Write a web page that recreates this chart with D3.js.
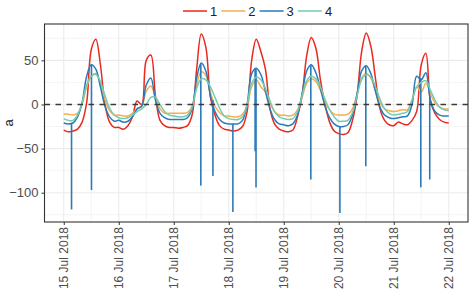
<!DOCTYPE html>
<html>
<head>
<meta charset="utf-8">
<script src="https://cdn.jsdelivr.net/npm/d3@7"></script>
<style>
  body { margin: 0; background: #fff; }
  text { font-family: "Liberation Sans", Arial, sans-serif; }
</style>
</head>
<body>
<div id="chart"></div>
<script>
// hours after 15 Jul 2018 00:00, one sample every 2 hours
const hours = d3.range(0, 170, 2);
const seriesNames = ['1', '2', '3', '4'];

const series1 = [-29,-31,-30,-28,-20,2,62,74,45,0,-20,-26,
    -26,-28,-24,-14,4,0,50,56,10,-18,-24,-26,
    -26,-27,-26,-24,-12,40,80,65,8,-12,-24,-28,
    -29,-30,-29,-25,-8,50,74,60,40,-5,-22,-28,
    -30,-31,-29,-14,10,55,76,64,28,0,-20,-30,
    -33,-34,-32,-18,10,60,81,66,30,-5,-18,-23,
    -24,-20,-22,-23,-18,-8,45,58,4,-10,-17,-20,-21];
const series2 = [-11,-11,-12,-10,0,20,32,35,24,5,-7,-12,
    -12,-13,-13,-10,-5,-2,15,21,8,-5,-10,-10,
    -10,-10,-10,-9,-2,22,37,33,14,-2,-9,-13,
    -13,-14,-14,-11,-2,20,28,20,14,2,-8,-12,
    -12,-13,-12,-6,8,24,29,26,16,3,-6,-11,
    -12,-12,-11,-5,12,30,35,30,16,2,-5,-7,
    -8,-7,-6,-6,5,20,14,24,12,2,-3,-5,-5];
const series3 = [-21,-22,-21,-14,2,32,45,40,20,-2,-14,-19,
    -18,-20,-19,-14,-5,-2,22,30,5,-10,-15,-17,
    -17,-17,-17,-15,-5,30,47,38,10,-8,-17,-21,
    -22,-22,-22,-18,0,35,41,34,15,-5,-17,-22,
    -23,-24,-22,-12,12,38,45,36,18,-2,-15,-22,
    -25,-25,-23,-12,12,38,44,35,15,-3,-12,-15,
    -16,-15,-14,-13,0,32,28,36,5,-8,-12,-13,-13];
const series4 = [-16,-18,-18,-12,2,22,32,34,26,10,-4,-12,
    -15,-16,-15,-12,-8,-5,0,8,8,0,-8,-12,
    -13,-14,-14,-12,-3,18,29,28,20,8,-4,-13,
    -16,-17,-17,-14,0,24,31,28,18,4,-8,-14,
    -16,-17,-16,-8,10,27,32,29,20,6,-6,-14,
    -19,-19,-18,-9,10,28,34,31,20,6,-5,-10,
    -12,-11,-10,-8,5,20,25,27,16,5,-3,-6,-7];

// sharp drops in series 3
const spikeHours = [3.4, 12.1, 59.8, 65.1, 73.8, 83.5, 83.9, 107.8, 120.5, 131.8, 155.8, 159.7];
const spikeTop = [-21, 45, 46, 5, -22, 41, 40, 45, -25, 44, 30, 8];
const spikeLow = [-119, -97, -92, -81, -122, -53, -94, -85, -123, -70, -94, -85];

const colors = ['#e8291f', '#f7ad4e', '#2b7bba', '#74cbb1'];

const width = 474;
const height = 297;
const margin = {top: 24, right: 6, bottom: 75, left: 44.5};

const start = new Date(2018, 6, 15);
const toDate = h => new Date(start.getTime() + h * 3600 * 1000);

const allSeries = [series1, series2, series3, series4];
const lineData = allSeries.map((vals, i) => ({
    name: seriesNames[i],
    values: vals.map((v, j) => ({t: toDate(hours[j]), v: v}))
}));

const svg = d3.select('#chart').append('svg')
    .attr('width', width)
    .attr('height', height);

const hMin = d3.min(hours), hMax = d3.max(hours);
const hPad = (hMax - hMin) * 0.05;
const x = d3.scaleTime()
    .domain([toDate(hMin - hPad), toDate(hMax + hPad)])
    .range([margin.left, width - margin.right]);

const vMin = d3.min(allSeries.flat().concat(spikeLow));
const vMax = d3.max(allSeries.flat().concat(spikeTop));
const vPad = (vMax - vMin) * 0.05;
const y = d3.scaleLinear()
    .domain([vMin - vPad, vMax + vPad])
    .range([height - margin.bottom, margin.top]);

const panelBottom = height - margin.bottom;
const panelRight = width - margin.right;

// grid (minor then major)
const dayTicks = d3.timeDay.range(d3.timeDay.ceil(x.domain()[0]), x.domain()[1]);
const noonTicks = d3.timeHour.range(x.domain()[0], x.domain()[1]).filter(d => d.getHours() === 12);
const yMajor = [-100, -50, 0, 50];
const yMinor = [-125, -75, -25, 25, 75];

svg.append('g').selectAll('line')
    .data(yMinor)
    .join('line')
    .attr('x1', margin.left).attr('x2', panelRight)
    .attr('y1', d => y(d)).attr('y2', d => y(d))
    .attr('stroke', '#ededed').attr('stroke-width', 0.6);
svg.append('g').selectAll('line')
    .data(noonTicks)
    .join('line')
    .attr('x1', d => x(d)).attr('x2', d => x(d))
    .attr('y1', margin.top).attr('y2', panelBottom)
    .attr('stroke', '#ededed').attr('stroke-width', 0.6);
svg.append('g').selectAll('line')
    .data(yMajor)
    .join('line')
    .attr('x1', margin.left).attr('x2', panelRight)
    .attr('y1', d => y(d)).attr('y2', d => y(d))
    .attr('stroke', '#ebebeb').attr('stroke-width', 1.1);
svg.append('g').selectAll('line')
    .data(dayTicks)
    .join('line')
    .attr('x1', d => x(d)).attr('x2', d => x(d))
    .attr('y1', margin.top).attr('y2', panelBottom)
    .attr('stroke', '#ebebeb').attr('stroke-width', 1.1);

// lines
const line = d3.line()
    .x(d => x(d.t))
    .y(d => y(d.v))
    .curve(d3.curveCatmullRom.alpha(0.5));

lineData.forEach((s, i) => {
    svg.append('path')
        .datum(s.values)
        .attr('fill', 'none')
        .attr('stroke', colors[i])
        .attr('stroke-width', 1.5)
        .attr('d', line);
    if (i === 2) {
        spikeHours.forEach((h, k) => {
            svg.append('path')
                .datum([{t: toDate(h), v: spikeTop[k]}, {t: toDate(h), v: spikeLow[k]}])
                .attr('fill', 'none')
                .attr('stroke', colors[i])
                .attr('stroke-width', 1.6)
                .attr('d', d3.line().x(d => x(d.t)).y(d => y(d.v)));
        });
    }
});

// zero line
svg.append('line')
    .attr('x1', margin.left).attr('x2', panelRight)
    .attr('y1', y(0)).attr('y2', y(0))
    .attr('stroke', '#3a3a3a')
    .attr('stroke-width', 1.4)
    .style('stroke-dasharray', '5.5, 5.5');

// panel border
svg.append('rect')
    .attr('x', margin.left).attr('y', margin.top)
    .attr('width', panelRight - margin.left)
    .attr('height', panelBottom - margin.top)
    .attr('fill', 'none')
    .attr('stroke', '#333')
    .attr('stroke-width', 1.1);

// axes
const yAxis = svg.append('g')
    .attr('transform', `translate(${margin.left}, 0)`)
    .call(d3.axisLeft(y).tickValues(yMajor).tickSize(3).tickPadding(3));
yAxis.select('.domain').remove();
yAxis.selectAll('line').attr('stroke', '#333');
yAxis.selectAll('text')
    .attr('fill', '#4d4d4d')
    .style('font-size', '13px');

const xAxis = svg.append('g')
    .attr('transform', `translate(0, ${panelBottom})`)
    .call(d3.axisBottom(x).tickValues(dayTicks).tickSize(3).tickFormat(d3.timeFormat('%d %b %Y')));
xAxis.select('.domain').remove();
xAxis.selectAll('line').attr('stroke', '#333');
xAxis.selectAll('text')
    .attr('fill', '#4d4d4d')
    .style('font-size', '12px')
    .attr('text-anchor', 'end')
    .attr('transform', 'rotate(-90)')
    .attr('x', -5)
    .attr('y', 0)
    .attr('dy', '0.35em');

svg.append('text')
    .attr('transform', `translate(13, ${(margin.top + panelBottom) / 2}) rotate(-90)`)
    .attr('text-anchor', 'middle')
    .style('font-size', '13px')
    .attr('fill', '#222')
    .text('a');

// legend
const legend = svg.append('g').attr('transform', 'translate(183, 11)');
const item = legend.selectAll('g')
    .data(seriesNames)
    .join('g')
    .attr('transform', (d, i) => `translate(${i * 38.3}, 0)`);
item.append('line')
    .attr('x1', 0).attr('x2', 24)
    .attr('y1', 0).attr('y2', 0)
    .attr('stroke', (d, i) => colors[i])
    .attr('stroke-width', 1.5);
item.append('text')
    .attr('x', 27)
    .attr('y', 0)
    .attr('dy', '0.36em')
    .style('font-size', '13px')
    .attr('fill', '#222')
    .text(d => d);
</script>
</body>
</html>
